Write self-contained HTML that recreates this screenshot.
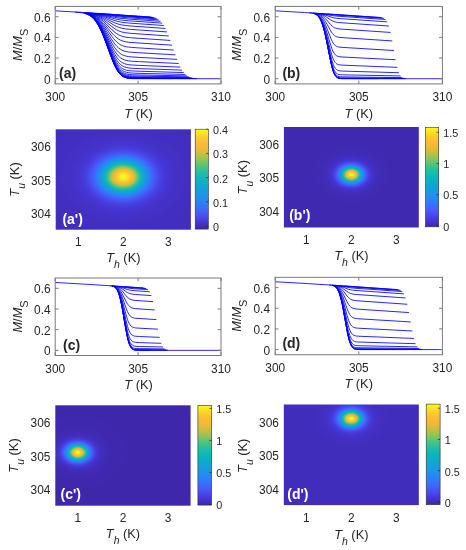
<!DOCTYPE html>
<html><head><meta charset="utf-8"><title>Figure</title>
<style>
html,body{margin:0;padding:0;background:#fff}
body{width:466px;height:550px;position:relative;overflow:hidden}
.hm{position:absolute}
svg{position:absolute;left:0;top:0}
text{font-family:"Liberation Sans", Arial, Helvetica, sans-serif;fill:#262626}
.tk{font-size:11.9px}
.lb{font-size:12.8px}
.pl{font-size:14px;font-weight:bold}
.cb{font-size:10.8px}
</style></head><body>
<svg width="466" height="550" viewBox="0 0 466 550">
<radialGradient id="g1" gradientUnits="userSpaceOnUse" cx="0" cy="0" r="1" gradientTransform="matrix(102.527 0 0 76.137 123.300 176.823)"><stop offset="0.0000" stop-color="#f9fb15"/><stop offset="0.0250" stop-color="#f9f319"/><stop offset="0.0500" stop-color="#fadc25"/><stop offset="0.0750" stop-color="#fbc034"/><stop offset="0.1000" stop-color="#efb937"/><stop offset="0.1250" stop-color="#9cc352"/><stop offset="0.1500" stop-color="#3ec389"/><stop offset="0.1750" stop-color="#0fb7ba"/><stop offset="0.2000" stop-color="#0fa7d2"/><stop offset="0.2250" stop-color="#1c95e7"/><stop offset="0.2500" stop-color="#2983f6"/><stop offset="0.2750" stop-color="#3a6efb"/><stop offset="0.3000" stop-color="#455cf8"/><stop offset="0.3250" stop-color="#474ff2"/><stop offset="0.3500" stop-color="#4745e7"/><stop offset="0.3750" stop-color="#463ede"/><stop offset="0.4000" stop-color="#4639d8"/><stop offset="0.4250" stop-color="#4536d3"/><stop offset="0.4500" stop-color="#4434cf"/><stop offset="0.4750" stop-color="#4433cb"/><stop offset="0.5000" stop-color="#4332c9"/><stop offset="0.5250" stop-color="#4331c7"/><stop offset="0.5500" stop-color="#4330c5"/><stop offset="0.5750" stop-color="#4330c4"/><stop offset="0.6000" stop-color="#4230c3"/><stop offset="0.6250" stop-color="#422fc2"/><stop offset="0.6500" stop-color="#422fc1"/><stop offset="0.6750" stop-color="#422fc0"/><stop offset="0.7000" stop-color="#422ec0"/><stop offset="0.7250" stop-color="#422ebf"/><stop offset="0.7500" stop-color="#422ebf"/><stop offset="0.7750" stop-color="#422ebe"/><stop offset="0.8000" stop-color="#422ebe"/><stop offset="0.8250" stop-color="#422ebe"/><stop offset="0.8500" stop-color="#422ebd"/><stop offset="0.8750" stop-color="#422ebd"/><stop offset="0.9000" stop-color="#412dbd"/><stop offset="0.9250" stop-color="#412dbd"/><stop offset="0.9500" stop-color="#412dbd"/><stop offset="0.9750" stop-color="#412dbd"/><stop offset="1.0000" stop-color="#412dbd"/></radialGradient>
<rect x="55.70" y="129.30" width="135.20" height="100.40" fill="url(#g1)"/>
<linearGradient id="c1" x1="0" y1="0" x2="0" y2="1"><stop offset="0.0000" stop-color="#f9fb15"/><stop offset="0.0312" stop-color="#f9e91e"/><stop offset="0.0625" stop-color="#fad827"/><stop offset="0.0938" stop-color="#fac92f"/><stop offset="0.1250" stop-color="#fcbe35"/><stop offset="0.1562" stop-color="#f9b838"/><stop offset="0.1875" stop-color="#f2b937"/><stop offset="0.2188" stop-color="#e0bb3a"/><stop offset="0.2500" stop-color="#c6bf3f"/><stop offset="0.2812" stop-color="#a9c24c"/><stop offset="0.3125" stop-color="#89c55b"/><stop offset="0.3438" stop-color="#6ac56d"/><stop offset="0.3750" stop-color="#4bc47f"/><stop offset="0.4062" stop-color="#34c191"/><stop offset="0.4375" stop-color="#20bea4"/><stop offset="0.4688" stop-color="#15bab1"/><stop offset="0.5000" stop-color="#0cb5be"/><stop offset="0.5312" stop-color="#0cb0c6"/><stop offset="0.5625" stop-color="#0cabce"/><stop offset="0.5938" stop-color="#11a4d6"/><stop offset="0.6250" stop-color="#169dde"/><stop offset="0.6562" stop-color="#1b96e6"/><stop offset="0.6875" stop-color="#2090ed"/><stop offset="0.7188" stop-color="#2686f4"/><stop offset="0.7500" stop-color="#2d7dfa"/><stop offset="0.7812" stop-color="#3870fb"/><stop offset="0.8125" stop-color="#4364fc"/><stop offset="0.8438" stop-color="#4658f6"/><stop offset="0.8750" stop-color="#484cf0"/><stop offset="0.9062" stop-color="#4640e1"/><stop offset="0.9375" stop-color="#4535d2"/><stop offset="0.9688" stop-color="#412dbd"/><stop offset="1.0000" stop-color="#3e26a8"/></linearGradient>
<rect x="195.20" y="129.20" width="13.10" height="99.90" fill="url(#c1)"/>
<radialGradient id="g2" gradientUnits="userSpaceOnUse" cx="0" cy="0" r="1" gradientTransform="matrix(50.363 0 0 37.520 351.350 174.570)"><stop offset="0.0000" stop-color="#f9fb15"/><stop offset="0.0250" stop-color="#f9f319"/><stop offset="0.0500" stop-color="#fadc25"/><stop offset="0.0750" stop-color="#fbbf34"/><stop offset="0.1000" stop-color="#ecba38"/><stop offset="0.1250" stop-color="#96c455"/><stop offset="0.1500" stop-color="#39c28e"/><stop offset="0.1750" stop-color="#0cb5be"/><stop offset="0.2000" stop-color="#11a5d5"/><stop offset="0.2250" stop-color="#1e92ea"/><stop offset="0.2500" stop-color="#2c7ff9"/><stop offset="0.2750" stop-color="#4068fc"/><stop offset="0.3000" stop-color="#4656f5"/><stop offset="0.3250" stop-color="#4849ec"/><stop offset="0.3500" stop-color="#463fdf"/><stop offset="0.3750" stop-color="#4538d6"/><stop offset="0.4000" stop-color="#4433ce"/><stop offset="0.4250" stop-color="#4331c7"/><stop offset="0.4500" stop-color="#422fc2"/><stop offset="0.4750" stop-color="#422ebf"/><stop offset="0.5000" stop-color="#412dbc"/><stop offset="0.5250" stop-color="#412cba"/><stop offset="0.5500" stop-color="#412cb9"/><stop offset="0.5750" stop-color="#412bb7"/><stop offset="0.6000" stop-color="#402bb6"/><stop offset="0.6250" stop-color="#402bb5"/><stop offset="0.6500" stop-color="#402ab4"/><stop offset="0.6750" stop-color="#402ab4"/><stop offset="0.7000" stop-color="#402ab3"/><stop offset="0.7250" stop-color="#402ab2"/><stop offset="0.7500" stop-color="#402ab2"/><stop offset="0.7750" stop-color="#4029b1"/><stop offset="0.8000" stop-color="#4029b1"/><stop offset="0.8250" stop-color="#3f29b1"/><stop offset="0.8500" stop-color="#3f29b1"/><stop offset="0.8750" stop-color="#3f29b0"/><stop offset="0.9000" stop-color="#3f29b0"/><stop offset="0.9250" stop-color="#3f29b0"/><stop offset="0.9500" stop-color="#3f29b0"/><stop offset="0.9750" stop-color="#3f29b0"/><stop offset="1.0000" stop-color="#3f29b0"/></radialGradient>
<rect x="283.90" y="127.00" width="134.90" height="100.50" fill="url(#g2)"/>
<linearGradient id="c2" x1="0" y1="0" x2="0" y2="1"><stop offset="0.0000" stop-color="#f9fb15"/><stop offset="0.0312" stop-color="#f9e91e"/><stop offset="0.0625" stop-color="#fad827"/><stop offset="0.0938" stop-color="#fac92f"/><stop offset="0.1250" stop-color="#fcbe35"/><stop offset="0.1562" stop-color="#f9b838"/><stop offset="0.1875" stop-color="#f2b937"/><stop offset="0.2188" stop-color="#e0bb3a"/><stop offset="0.2500" stop-color="#c6bf3f"/><stop offset="0.2812" stop-color="#a9c24c"/><stop offset="0.3125" stop-color="#89c55b"/><stop offset="0.3438" stop-color="#6ac56d"/><stop offset="0.3750" stop-color="#4bc47f"/><stop offset="0.4062" stop-color="#34c191"/><stop offset="0.4375" stop-color="#20bea4"/><stop offset="0.4688" stop-color="#15bab1"/><stop offset="0.5000" stop-color="#0cb5be"/><stop offset="0.5312" stop-color="#0cb0c6"/><stop offset="0.5625" stop-color="#0cabce"/><stop offset="0.5938" stop-color="#11a4d6"/><stop offset="0.6250" stop-color="#169dde"/><stop offset="0.6562" stop-color="#1b96e6"/><stop offset="0.6875" stop-color="#2090ed"/><stop offset="0.7188" stop-color="#2686f4"/><stop offset="0.7500" stop-color="#2d7dfa"/><stop offset="0.7812" stop-color="#3870fb"/><stop offset="0.8125" stop-color="#4364fc"/><stop offset="0.8438" stop-color="#4658f6"/><stop offset="0.8750" stop-color="#484cf0"/><stop offset="0.9062" stop-color="#4640e1"/><stop offset="0.9375" stop-color="#4535d2"/><stop offset="0.9688" stop-color="#412dbd"/><stop offset="1.0000" stop-color="#3e26a8"/></linearGradient>
<rect x="425.50" y="127.50" width="13.20" height="99.30" fill="url(#c2)"/>
<radialGradient id="g3" gradientUnits="userSpaceOnUse" cx="0" cy="0" r="1" gradientTransform="matrix(50.512 0 0 37.483 77.850 452.488)"><stop offset="0.0000" stop-color="#f9fb15"/><stop offset="0.0250" stop-color="#f9f319"/><stop offset="0.0500" stop-color="#fadb25"/><stop offset="0.0750" stop-color="#fbbf34"/><stop offset="0.1000" stop-color="#ebba38"/><stop offset="0.1250" stop-color="#94c456"/><stop offset="0.1500" stop-color="#37c28f"/><stop offset="0.1750" stop-color="#0cb5be"/><stop offset="0.2000" stop-color="#11a4d6"/><stop offset="0.2250" stop-color="#1e92eb"/><stop offset="0.2500" stop-color="#2d7dfa"/><stop offset="0.2750" stop-color="#4166fc"/><stop offset="0.3000" stop-color="#4654f4"/><stop offset="0.3250" stop-color="#4747e9"/><stop offset="0.3500" stop-color="#463ddc"/><stop offset="0.3750" stop-color="#4536d3"/><stop offset="0.4000" stop-color="#4432ca"/><stop offset="0.4250" stop-color="#4330c3"/><stop offset="0.4500" stop-color="#422ebf"/><stop offset="0.4750" stop-color="#412dbb"/><stop offset="0.5000" stop-color="#412cb9"/><stop offset="0.5250" stop-color="#402bb7"/><stop offset="0.5500" stop-color="#402bb5"/><stop offset="0.5750" stop-color="#402ab4"/><stop offset="0.6000" stop-color="#402ab2"/><stop offset="0.6250" stop-color="#4029b1"/><stop offset="0.6500" stop-color="#3f29b1"/><stop offset="0.6750" stop-color="#3f29b0"/><stop offset="0.7000" stop-color="#3f29af"/><stop offset="0.7250" stop-color="#3f28af"/><stop offset="0.7500" stop-color="#3f28ae"/><stop offset="0.7750" stop-color="#3f28ae"/><stop offset="0.8000" stop-color="#3f28ad"/><stop offset="0.8250" stop-color="#3f28ad"/><stop offset="0.8500" stop-color="#3f28ad"/><stop offset="0.8750" stop-color="#3f28ad"/><stop offset="0.9000" stop-color="#3f28ad"/><stop offset="0.9250" stop-color="#3f28ac"/><stop offset="0.9500" stop-color="#3f28ac"/><stop offset="0.9750" stop-color="#3f27ac"/><stop offset="1.0000" stop-color="#3f27ac"/></radialGradient>
<rect x="55.30" y="405.30" width="135.30" height="100.40" fill="url(#g3)"/>
<linearGradient id="c3" x1="0" y1="0" x2="0" y2="1"><stop offset="0.0000" stop-color="#f9fb15"/><stop offset="0.0312" stop-color="#f9e91e"/><stop offset="0.0625" stop-color="#fad827"/><stop offset="0.0938" stop-color="#fac92f"/><stop offset="0.1250" stop-color="#fcbe35"/><stop offset="0.1562" stop-color="#f9b838"/><stop offset="0.1875" stop-color="#f2b937"/><stop offset="0.2188" stop-color="#e0bb3a"/><stop offset="0.2500" stop-color="#c6bf3f"/><stop offset="0.2812" stop-color="#a9c24c"/><stop offset="0.3125" stop-color="#89c55b"/><stop offset="0.3438" stop-color="#6ac56d"/><stop offset="0.3750" stop-color="#4bc47f"/><stop offset="0.4062" stop-color="#34c191"/><stop offset="0.4375" stop-color="#20bea4"/><stop offset="0.4688" stop-color="#15bab1"/><stop offset="0.5000" stop-color="#0cb5be"/><stop offset="0.5312" stop-color="#0cb0c6"/><stop offset="0.5625" stop-color="#0cabce"/><stop offset="0.5938" stop-color="#11a4d6"/><stop offset="0.6250" stop-color="#169dde"/><stop offset="0.6562" stop-color="#1b96e6"/><stop offset="0.6875" stop-color="#2090ed"/><stop offset="0.7188" stop-color="#2686f4"/><stop offset="0.7500" stop-color="#2d7dfa"/><stop offset="0.7812" stop-color="#3870fb"/><stop offset="0.8125" stop-color="#4364fc"/><stop offset="0.8438" stop-color="#4658f6"/><stop offset="0.8750" stop-color="#484cf0"/><stop offset="0.9062" stop-color="#4640e1"/><stop offset="0.9375" stop-color="#4535d2"/><stop offset="0.9688" stop-color="#412dbd"/><stop offset="1.0000" stop-color="#3e26a8"/></linearGradient>
<rect x="197.90" y="405.30" width="13.70" height="99.80" fill="url(#c3)"/>
<radialGradient id="g4" gradientUnits="userSpaceOnUse" cx="0" cy="0" r="1" gradientTransform="matrix(50.400 0 0 37.557 351.300 418.584)"><stop offset="0.0000" stop-color="#f9fb15"/><stop offset="0.0250" stop-color="#f9f319"/><stop offset="0.0500" stop-color="#fadc25"/><stop offset="0.0750" stop-color="#fbc034"/><stop offset="0.1000" stop-color="#efb937"/><stop offset="0.1250" stop-color="#9bc453"/><stop offset="0.1500" stop-color="#3dc38a"/><stop offset="0.1750" stop-color="#0fb6ba"/><stop offset="0.2000" stop-color="#0fa7d3"/><stop offset="0.2250" stop-color="#1c95e7"/><stop offset="0.2500" stop-color="#2982f6"/><stop offset="0.2750" stop-color="#3b6dfb"/><stop offset="0.3000" stop-color="#455bf8"/><stop offset="0.3250" stop-color="#484ef1"/><stop offset="0.3500" stop-color="#4744e6"/><stop offset="0.3750" stop-color="#463ddd"/><stop offset="0.4000" stop-color="#4538d6"/><stop offset="0.4250" stop-color="#4535d1"/><stop offset="0.4500" stop-color="#4433cd"/><stop offset="0.4750" stop-color="#4432c9"/><stop offset="0.5000" stop-color="#4331c7"/><stop offset="0.5250" stop-color="#4330c5"/><stop offset="0.5500" stop-color="#4330c3"/><stop offset="0.5750" stop-color="#422fc2"/><stop offset="0.6000" stop-color="#422fc1"/><stop offset="0.6250" stop-color="#422ec0"/><stop offset="0.6500" stop-color="#422ebf"/><stop offset="0.6750" stop-color="#422ebe"/><stop offset="0.7000" stop-color="#422ebe"/><stop offset="0.7250" stop-color="#422ebd"/><stop offset="0.7500" stop-color="#412dbd"/><stop offset="0.7750" stop-color="#412dbc"/><stop offset="0.8000" stop-color="#412dbc"/><stop offset="0.8250" stop-color="#412dbc"/><stop offset="0.8500" stop-color="#412dbb"/><stop offset="0.8750" stop-color="#412dbb"/><stop offset="0.9000" stop-color="#412dbb"/><stop offset="0.9250" stop-color="#412dbb"/><stop offset="0.9500" stop-color="#412dbb"/><stop offset="0.9750" stop-color="#412dbb"/><stop offset="1.0000" stop-color="#412dbb"/></radialGradient>
<rect x="283.80" y="404.50" width="135.00" height="100.60" fill="url(#g4)"/>
<linearGradient id="c4" x1="0" y1="0" x2="0" y2="1"><stop offset="0.0000" stop-color="#f9fb15"/><stop offset="0.0312" stop-color="#f9e91e"/><stop offset="0.0625" stop-color="#fad827"/><stop offset="0.0938" stop-color="#fac92f"/><stop offset="0.1250" stop-color="#fcbe35"/><stop offset="0.1562" stop-color="#f9b838"/><stop offset="0.1875" stop-color="#f2b937"/><stop offset="0.2188" stop-color="#e0bb3a"/><stop offset="0.2500" stop-color="#c6bf3f"/><stop offset="0.2812" stop-color="#a9c24c"/><stop offset="0.3125" stop-color="#89c55b"/><stop offset="0.3438" stop-color="#6ac56d"/><stop offset="0.3750" stop-color="#4bc47f"/><stop offset="0.4062" stop-color="#34c191"/><stop offset="0.4375" stop-color="#20bea4"/><stop offset="0.4688" stop-color="#15bab1"/><stop offset="0.5000" stop-color="#0cb5be"/><stop offset="0.5312" stop-color="#0cb0c6"/><stop offset="0.5625" stop-color="#0cabce"/><stop offset="0.5938" stop-color="#11a4d6"/><stop offset="0.6250" stop-color="#169dde"/><stop offset="0.6562" stop-color="#1b96e6"/><stop offset="0.6875" stop-color="#2090ed"/><stop offset="0.7188" stop-color="#2686f4"/><stop offset="0.7500" stop-color="#2d7dfa"/><stop offset="0.7812" stop-color="#3870fb"/><stop offset="0.8125" stop-color="#4364fc"/><stop offset="0.8438" stop-color="#4658f6"/><stop offset="0.8750" stop-color="#484cf0"/><stop offset="0.9062" stop-color="#4640e1"/><stop offset="0.9375" stop-color="#4535d2"/><stop offset="0.9688" stop-color="#412dbd"/><stop offset="1.0000" stop-color="#3e26a8"/></linearGradient>
<rect x="426.20" y="404.10" width="13.90" height="100.60" fill="url(#c4)"/>
<g fill="none" stroke="#0000ff" stroke-width="0.85" stroke-linejoin="round"><path d="M55.20 10.84 74.76 12.01 79.08 12.42 82.39 12.91 84.05 13.27 85.71 13.75 87.03 14.23 88.36 14.83 89.69 15.57 90.68 16.23 92.01 17.26 93.00 18.17 94.33 19.58 95.32 20.79 97.31 23.65 99.30 27.11 101.29 31.17 102.95 34.97 104.94 39.96 110.91 56.28 112.57 60.61 114.22 64.56 115.88 68.01 116.88 69.80 117.87 71.39 118.87 72.77 119.86 73.96 120.86 74.96 122.18 76.03 123.18 76.66 124.50 77.31 126.49 77.96 128.48 78.33 131.14 78.58 134.78 78.70 220.17 78.73"/><path d="M74.76 11.96 97.98 13.39 150.54 17.00"/><path d="M106.93 14.08 120.53 15.11 152.19 17.27"/><path d="M101.62 13.75 120.53 15.34 153.85 17.64"/><path d="M97.98 13.53 120.53 15.72 155.51 18.16"/><path d="M94.99 13.34 101.29 13.99 114.56 15.67 120.86 16.32 157.17 18.89"/><path d="M92.67 13.21 100.63 14.14 114.56 16.37 120.86 17.16 128.48 17.80 158.83 19.91"/><path d="M90.68 13.09 95.32 13.62 99.97 14.33 104.28 15.16 114.56 17.38 117.87 17.95 121.19 18.39 129.15 19.11 160.48 21.30"/><path d="M89.02 13.00 94.33 13.66 99.30 14.58 103.95 15.72 114.56 18.74 117.87 19.47 121.19 20.02 124.84 20.45 129.48 20.85 162.14 23.14"/><path d="M87.70 12.93 90.68 13.29 93.67 13.76 96.32 14.30 98.97 14.96 103.95 16.53 111.90 19.58 114.89 20.62 118.20 21.54 121.52 22.20 125.17 22.69 129.81 23.11 163.80 25.51"/><path d="M86.70 12.89 90.02 13.33 93.00 13.87 95.99 14.59 98.64 15.40 100.96 16.27 103.61 17.41 111.90 21.53 114.89 22.88 118.20 24.06 121.52 24.88 125.17 25.46 130.14 25.95 165.46 28.44"/><path d="M86.04 12.88 89.69 13.42 92.67 14.05 95.66 14.91 98.31 15.91 100.96 17.15 103.61 18.61 106.27 20.23 111.90 23.89 114.89 25.61 116.55 26.42 118.20 27.10 119.86 27.66 121.85 28.19 125.50 28.85 130.47 29.37 167.12 31.94"/><path d="M85.38 12.87 89.02 13.45 92.34 14.24 95.32 15.26 98.31 16.64 100.96 18.18 103.61 20.00 106.27 22.04 111.90 26.64 114.89 28.79 116.55 29.79 118.20 30.64 119.86 31.32 121.85 31.97 123.84 32.44 125.83 32.79 130.80 33.34 168.77 35.97"/><path d="M84.71 12.85 88.69 13.54 92.01 14.44 94.99 15.62 96.65 16.46 97.98 17.24 100.63 19.08 103.61 21.56 106.27 24.07 111.90 29.71 114.89 32.34 116.55 33.56 118.20 34.59 119.86 35.42 121.85 36.18 123.84 36.74 125.83 37.14 130.80 37.74 170.43 40.43"/><path d="M84.38 12.87 88.36 13.61 90.35 14.17 92.01 14.75 93.67 15.47 94.99 16.15 96.65 17.15 97.98 18.07 100.63 20.27 103.28 22.89 105.93 25.86 111.90 33.01 113.56 34.84 114.89 36.16 116.88 37.88 118.54 39.05 120.19 39.99 122.18 40.84 123.84 41.36 125.83 41.81 128.15 42.18 131.14 42.49 172.09 45.18"/><path d="M84.05 12.88 86.04 13.23 88.03 13.68 90.02 14.29 91.68 14.93 93.33 15.72 94.99 16.70 96.65 17.86 97.98 18.94 100.63 21.50 103.28 24.58 105.93 28.06 111.90 36.44 113.56 38.57 114.89 40.12 116.88 42.13 118.54 43.49 120.19 44.57 122.18 45.55 124.17 46.24 126.16 46.71 128.48 47.09 131.47 47.40 138.10 47.87 173.75 50.05"/><path d="M84.05 12.94 86.04 13.32 88.03 13.83 90.02 14.51 91.68 15.23 93.33 16.14 94.99 17.24 96.65 18.57 97.98 19.81 99.30 21.20 100.63 22.74 103.28 26.26 105.93 30.25 111.90 39.86 113.56 42.30 114.89 44.07 116.88 46.36 118.54 47.91 120.19 49.14 122.18 50.24 124.17 51.01 126.16 51.53 128.48 51.93 131.47 52.26 138.43 52.73 175.41 54.83"/><path d="M84.38 13.05 86.37 13.49 88.36 14.08 90.35 14.87 92.01 15.71 93.67 16.77 94.99 17.77 96.65 19.26 97.98 20.64 99.30 22.20 100.63 23.93 103.28 27.89 105.93 32.37 111.90 43.14 113.56 45.88 114.89 47.87 116.88 50.43 118.54 52.15 120.19 53.52 122.18 54.74 124.17 55.58 126.16 56.15 128.48 56.57 131.80 56.93 139.09 57.39 177.06 59.36"/><path d="M84.71 13.18 86.70 13.68 88.69 14.35 90.35 15.08 92.01 16.01 93.67 17.16 94.99 18.26 96.65 19.90 97.98 21.42 99.30 23.14 100.63 25.04 103.28 29.39 105.93 34.32 111.90 46.18 113.56 49.20 114.89 51.38 116.88 54.19 118.54 56.07 119.53 57.02 120.53 57.82 122.51 59.07 124.50 59.92 126.49 60.49 128.82 60.90 131.80 61.21 139.43 61.65 178.72 63.48"/><path d="M85.04 13.31 87.03 13.87 88.69 14.48 90.35 15.27 92.01 16.27 93.67 17.51 94.99 18.70 96.65 20.47 97.98 22.12 99.30 23.97 100.63 26.03 103.28 30.74 105.93 36.07 111.90 48.90 113.56 52.15 114.89 54.50 116.88 57.53 118.54 59.57 119.53 60.58 120.53 61.44 121.52 62.17 122.51 62.78 124.50 63.68 126.49 64.27 128.82 64.70 132.13 65.03 139.76 65.43 180.38 67.08"/><path d="M85.71 13.54 87.70 14.19 89.35 14.91 91.01 15.83 92.34 16.74 94.00 18.11 95.32 19.43 96.65 20.96 97.98 22.71 99.30 24.69 100.63 26.88 103.28 31.89 105.93 37.58 111.90 51.23 113.56 54.69 114.89 57.19 116.88 60.40 118.54 62.56 119.53 63.63 120.53 64.55 121.52 65.31 122.51 65.95 124.50 66.90 126.49 67.51 128.82 67.95 132.13 68.28 140.09 68.64 182.04 70.11"/><path d="M86.70 13.90 88.36 14.55 90.02 15.38 91.68 16.44 93.00 17.48 94.33 18.71 95.66 20.15 96.98 21.81 98.31 23.71 99.63 25.84 100.96 28.21 103.61 33.57 106.27 39.61 111.90 53.16 113.56 56.79 114.89 59.41 116.88 62.78 118.54 65.04 119.53 66.16 120.53 67.11 121.52 67.91 122.51 68.58 124.50 69.56 126.49 70.19 128.82 70.63 132.13 70.95 140.09 71.28 183.69 72.55"/><path d="M87.70 14.34 89.35 15.11 90.68 15.89 92.34 17.10 93.67 18.27 94.99 19.66 96.32 21.27 97.64 23.12 98.64 24.66 100.96 28.80 103.61 34.37 106.27 40.64 111.90 54.71 113.56 58.47 114.89 61.19 116.88 64.68 118.54 67.02 119.53 68.17 120.53 69.16 121.52 69.99 122.51 70.67 124.50 71.68 126.49 72.32 128.82 72.76 132.13 73.07 140.09 73.36 185.35 74.45"/><path d="M88.69 14.84 90.02 15.57 91.34 16.45 92.67 17.51 94.00 18.77 95.32 20.25 96.65 21.96 97.98 23.93 98.97 25.57 101.29 29.93 103.61 34.99 106.27 41.44 111.90 55.90 113.56 59.77 114.89 62.57 116.88 66.15 118.54 68.54 119.53 69.73 120.53 70.74 121.52 71.58 122.51 72.28 124.50 73.31 126.49 73.96 129.15 74.44 132.46 74.72 140.42 74.96 187.01 75.86"/><path d="M90.35 15.84 91.68 16.78 92.67 17.61 94.00 18.89 94.99 20.01 96.32 21.70 97.31 23.13 99.30 26.43 101.62 30.99 103.95 36.25 106.27 42.05 111.90 56.80 113.56 60.75 114.89 63.60 116.88 67.25 117.87 68.77 118.87 70.11 119.86 71.25 120.86 72.22 121.85 73.03 122.85 73.69 124.84 74.65 126.83 75.26 129.48 75.70 132.79 75.94 141.08 76.15 188.67 76.87"/><path d="M92.01 17.11 93.33 18.31 94.33 19.35 95.66 20.94 96.65 22.30 98.64 25.45 100.96 29.87 102.95 34.24 104.94 39.07 110.91 54.89 112.57 59.10 114.22 62.94 115.88 66.29 117.54 69.10 119.20 71.35 120.86 73.08 121.85 73.89 122.85 74.56 124.84 75.53 126.83 76.14 129.48 76.57 132.79 76.81 140.75 76.98 190.33 77.57"/><path d="M94.00 19.06 95.99 21.47 97.98 24.46 99.63 27.40 101.62 31.46 103.28 35.25 105.27 40.20 112.24 58.76 113.89 62.72 115.55 66.21 117.21 69.15 118.20 70.64 119.20 71.94 120.86 73.68 121.85 74.50 122.85 75.18 124.84 76.15 126.83 76.76 129.48 77.19 132.79 77.42 140.75 77.57 191.99 78.03"/><path d="M96.32 22.00 97.98 24.55 99.30 26.89 100.96 30.18 102.62 33.85 105.60 41.27 112.24 59.09 113.89 63.07 115.22 65.92 117.21 69.54 118.20 71.05 119.20 72.35 120.19 73.46 121.19 74.39 122.18 75.17 123.18 75.80 125.17 76.70 127.16 77.25 129.81 77.65 133.13 77.85 141.08 77.97 193.64 78.33"/><path d="M98.97 26.35 101.29 30.97 103.61 36.34 106.27 43.17 111.90 58.46 113.56 62.55 115.22 66.18 117.21 69.81 118.20 71.32 119.20 72.63 120.19 73.74 121.19 74.68 122.18 75.45 123.51 76.27 125.50 77.10 127.49 77.61 130.14 77.96 133.46 78.14 141.42 78.23 195.30 78.50"/><path d="M102.29 33.26 103.95 37.24 105.60 41.50 112.24 59.46 113.89 63.48 115.22 66.35 117.21 69.99 118.20 71.50 119.20 72.81 120.19 73.93 121.52 75.14 122.51 75.87 123.84 76.63 125.83 77.40 127.82 77.86 130.14 78.15 133.46 78.32 141.42 78.41 196.96 78.61"/><path d="M106.93 45.14 112.24 59.56 114.22 64.34 115.88 67.77 117.54 70.64 118.54 72.09 119.53 73.33 120.53 74.39 121.52 75.27 122.51 76.00 123.51 76.59 125.17 77.31 127.16 77.86 129.48 78.21 132.13 78.39 138.76 78.51 171.92 78.60"/><path d="M115.55 67.21 117.21 70.19 118.87 72.61 120.53 74.47 121.52 75.36 122.51 76.08 123.51 76.67 124.50 77.14 126.49 77.79 129.15 78.26 132.46 78.49"/></g>
<rect x="55.20" y="6.40" width="165.80" height="77.50" fill="none" stroke="#7a7a7a" stroke-width="1.0"/>
<path d="M55.20 83.90v-3.30M55.20 6.40v3.30M138.10 83.90v-3.30M138.10 6.40v3.30M221.00 83.90v-3.30M221.00 6.40v3.30M55.20 78.73h3.30M221.00 78.73h-3.30M55.20 58.07h3.30M221.00 58.07h-3.30M55.20 37.40h3.30M221.00 37.40h-3.30M55.20 16.73h3.30M221.00 16.73h-3.30" stroke="#7a7a7a" stroke-width="1.0" fill="none"/>
<text x="55.20" y="100.80" text-anchor="middle" class="tk">300</text>
<text x="138.10" y="100.80" text-anchor="middle" class="tk">305</text>
<text x="221.00" y="100.80" text-anchor="middle" class="tk">310</text>
<text x="50.60" y="83.73" text-anchor="end" class="tk">0</text>
<text x="50.60" y="63.07" text-anchor="end" class="tk">0.2</text>
<text x="50.60" y="42.40" text-anchor="end" class="tk">0.4</text>
<text x="50.60" y="21.73" text-anchor="end" class="tk">0.6</text>
<text x="138.60" y="118.10" text-anchor="middle" class="lb"><tspan font-style="italic">T</tspan> (K)</text>
<text transform="translate(21.60 44.85) rotate(-90)" text-anchor="middle" class="lb"><tspan font-style="italic">M</tspan>/<tspan font-style="italic">M</tspan><tspan font-size="11" dy="6.0">S</tspan></text>
<text x="59.00" y="77.80" class="pl">(a)</text>
<g fill="none" stroke="#0000ff" stroke-width="0.85" stroke-linejoin="round"><path d="M275.20 10.84 304.63 12.53 310.98 13.02 313.32 13.42 314.99 13.96 316.00 14.45 316.67 14.88 318.00 16.05 319.01 17.27 319.68 18.29 321.01 20.87 322.35 24.30 323.69 28.64 325.03 33.87 326.36 39.89 331.04 63.24 332.05 67.42 333.05 70.86 334.05 73.52 334.72 74.89 335.39 75.96 336.06 76.78 336.73 77.39 337.40 77.83 338.07 78.15 339.07 78.44 340.07 78.59 343.75 78.73 442.40 78.73"/><path d="M309.31 12.81 350.11 15.43 380.54 17.51"/><path d="M327.37 14.01 335.06 14.59 382.21 17.78"/><path d="M321.68 13.64 335.73 15.04 383.88 18.32"/><path d="M318.67 13.46 323.69 14.06 332.05 15.58 336.06 16.07 385.55 19.48"/><path d="M316.33 13.31 320.01 13.78 323.02 14.40 326.03 15.29 332.05 17.41 334.05 17.91 336.40 18.27 340.41 18.63 387.22 21.84"/><path d="M314.99 13.25 317.33 13.55 319.34 13.94 321.01 14.41 322.68 15.04 324.02 15.67 325.69 16.62 330.38 19.75 332.05 20.76 334.05 21.64 336.40 22.23 338.40 22.50 341.08 22.73 388.90 26.02"/><path d="M313.99 13.20 316.67 13.61 318.67 14.13 320.68 14.95 322.35 15.94 324.02 17.25 325.69 18.86 330.71 24.64 332.38 26.28 333.39 27.05 334.39 27.65 335.39 28.09 336.73 28.50 338.74 28.85 341.75 29.12 390.57 32.45"/><path d="M313.32 13.18 316.00 13.64 317.33 14.03 318.34 14.42 319.34 14.93 320.34 15.57 322.02 17.00 323.69 18.92 325.36 21.34 327.03 24.17 330.71 30.91 332.38 33.46 333.39 34.64 334.39 35.56 335.39 36.23 336.73 36.82 338.74 37.29 342.08 37.63 392.24 40.93"/><path d="M312.99 13.18 314.66 13.48 316.00 13.83 317.33 14.35 318.34 14.88 319.34 15.58 320.34 16.48 321.35 17.60 322.02 18.48 323.69 21.18 325.36 24.59 327.03 28.59 330.71 38.12 332.38 41.72 333.39 43.38 334.39 44.66 335.39 45.59 336.73 46.39 337.73 46.76 338.74 47.00 342.08 47.37 393.91 50.50"/><path d="M312.99 13.23 314.66 13.58 316.00 14.01 317.33 14.66 318.34 15.34 319.34 16.24 320.34 17.38 321.35 18.81 322.02 19.94 323.69 23.42 325.36 27.82 327.03 32.98 330.71 45.27 331.71 48.19 332.38 49.89 333.39 52.03 334.39 53.66 335.39 54.83 336.06 55.41 336.73 55.84 337.73 56.30 338.74 56.58 340.07 56.80 342.08 56.98 395.58 59.73"/><path d="M313.32 13.34 314.66 13.67 316.00 14.17 317.33 14.94 318.34 15.74 319.34 16.79 320.34 18.15 321.35 19.85 322.02 21.20 323.02 23.55 323.69 25.34 325.36 30.58 327.03 36.72 330.71 51.36 331.71 54.83 332.38 56.85 333.39 59.38 334.39 61.31 335.39 62.70 336.06 63.37 336.73 63.87 337.73 64.40 338.74 64.71 340.07 64.95 342.08 65.12 397.26 67.35"/><path d="M313.99 13.53 315.33 13.98 316.67 14.67 317.67 15.41 318.67 16.39 319.68 17.67 320.68 19.31 321.68 21.35 322.35 22.95 323.69 26.75 325.36 32.61 327.03 39.48 330.71 55.83 331.71 59.71 332.38 61.96 333.39 64.78 334.39 66.92 335.39 68.46 336.06 69.20 336.73 69.75 337.73 70.32 339.07 70.74 340.41 70.94 342.41 71.08 398.93 72.72"/><path d="M314.99 13.90 316.00 14.37 317.00 15.01 318.00 15.87 319.01 17.02 320.01 18.50 320.68 19.71 321.68 21.89 322.35 23.60 323.69 27.66 325.36 33.91 327.03 41.24 330.71 58.68 331.71 62.81 332.38 65.21 333.39 68.21 334.39 70.49 335.39 72.11 336.06 72.90 336.73 73.48 337.73 74.08 339.07 74.51 340.41 74.71 342.41 74.83 400.60 75.95"/><path d="M316.67 14.83 317.67 15.64 318.34 16.32 319.34 17.62 320.01 18.69 321.35 21.39 322.68 24.93 324.02 29.36 325.69 36.08 327.37 43.84 330.38 58.72 332.05 65.82 333.05 69.17 333.72 70.98 334.39 72.47 335.39 74.14 336.06 74.95 336.73 75.55 337.73 76.16 339.07 76.59 340.41 76.79 342.41 76.90 402.27 77.61"/><path d="M319.01 17.22 320.34 19.39 321.68 22.35 323.02 26.17 324.02 29.63 325.03 33.58 326.36 39.52 330.71 61.06 331.71 65.40 332.72 69.05 333.72 71.94 334.72 74.09 335.73 75.59 336.73 76.57 337.73 77.18 339.07 77.62 340.41 77.81 342.41 77.92 403.94 78.34"/><path d="M321.68 22.42 322.68 25.22 323.35 27.38 324.36 31.03 325.36 35.17 327.03 42.95 330.71 61.43 331.71 65.80 332.38 68.33 333.39 71.50 334.05 73.18 334.72 74.54 335.73 76.05 336.40 76.76 337.06 77.28 338.07 77.79 339.07 78.08 340.41 78.28 342.41 78.37 405.62 78.62"/><path d="M326.03 38.25 330.38 60.00 331.38 64.58 332.38 68.51 333.39 71.69 334.39 74.09 335.39 75.81 336.06 76.63 336.73 77.24 337.73 77.85 338.74 78.21 340.07 78.44 341.75 78.55 378.20 78.65"/></g>
<rect x="275.20" y="6.40" width="167.20" height="77.50" fill="none" stroke="#7a7a7a" stroke-width="1.0"/>
<path d="M275.20 83.90v-3.30M275.20 6.40v3.30M358.80 83.90v-3.30M358.80 6.40v3.30M442.40 83.90v-3.30M442.40 6.40v3.30M275.20 78.73h3.30M442.40 78.73h-3.30M275.20 58.07h3.30M442.40 58.07h-3.30M275.20 37.40h3.30M442.40 37.40h-3.30M275.20 16.73h3.30M442.40 16.73h-3.30" stroke="#7a7a7a" stroke-width="1.0" fill="none"/>
<text x="275.20" y="100.80" text-anchor="middle" class="tk">300</text>
<text x="358.80" y="100.80" text-anchor="middle" class="tk">305</text>
<text x="442.40" y="100.80" text-anchor="middle" class="tk">310</text>
<text x="270.00" y="83.73" text-anchor="end" class="tk">0</text>
<text x="270.00" y="63.07" text-anchor="end" class="tk">0.2</text>
<text x="270.00" y="42.40" text-anchor="end" class="tk">0.4</text>
<text x="270.00" y="21.73" text-anchor="end" class="tk">0.6</text>
<text x="358.80" y="118.10" text-anchor="middle" class="lb"><tspan font-style="italic">T</tspan> (K)</text>
<text transform="translate(240.70 44.85) rotate(-90)" text-anchor="middle" class="lb"><tspan font-style="italic">M</tspan>/<tspan font-style="italic">M</tspan><tspan font-size="11" dy="6.0">S</tspan></text>
<text x="282.40" y="78.40" class="pl">(b)</text>
<g fill="none" stroke="#0000ff" stroke-width="0.85" stroke-linejoin="round"><path d="M55.20 282.44 85.38 284.19 109.25 285.69 111.24 285.91 112.90 286.27 114.22 286.82 115.22 287.50 115.88 288.14 116.55 288.97 117.21 290.04 117.87 291.37 118.54 293.00 119.20 294.96 120.19 298.57 121.19 302.96 122.18 308.06 125.50 327.55 126.49 333.00 127.49 337.75 128.48 341.62 129.48 344.60 130.14 346.12 130.80 347.31 131.47 348.21 132.13 348.88 132.79 349.37 133.46 349.70 134.45 350.02 135.45 350.18 138.76 350.33 221.00 350.33"/><path d="M109.58 285.68 143.07 287.94"/><path d="M124.84 286.76 144.73 288.17"/><path d="M119.53 286.40 130.14 287.50 146.39 288.64"/><path d="M116.88 286.22 120.53 286.69 127.16 287.92 130.14 288.34 134.12 288.69 148.05 289.65"/><path d="M115.22 286.12 117.87 286.49 120.19 287.01 122.18 287.64 127.16 289.46 128.82 289.92 130.47 290.24 134.78 290.71 149.71 291.75"/><path d="M113.89 286.03 115.55 286.26 117.21 286.60 118.54 287.00 119.86 287.56 122.18 288.90 125.83 291.51 127.16 292.36 128.82 293.19 130.80 293.84 132.79 294.20 135.12 294.45 151.36 295.59"/><path d="M113.23 286.01 115.22 286.34 116.88 286.83 118.20 287.44 119.53 288.31 120.53 289.16 121.85 290.53 125.83 295.52 127.16 297.01 128.82 298.45 129.81 299.07 130.80 299.53 132.79 300.08 135.12 300.40 153.02 301.67"/><path d="M112.57 285.97 114.89 286.42 116.55 287.07 117.54 287.68 118.20 288.20 119.53 289.57 120.53 290.90 121.85 293.08 125.83 301.03 127.16 303.40 128.15 304.86 128.82 305.67 129.81 306.64 130.80 307.34 131.80 307.83 132.79 308.16 134.12 308.44 135.45 308.61 154.68 309.94"/><path d="M112.24 285.97 113.56 286.21 114.56 286.49 115.55 286.90 116.21 287.28 117.21 288.04 117.87 288.71 119.20 290.50 120.53 292.96 121.85 296.09 123.18 299.75 125.83 307.53 127.49 311.67 128.15 313.02 129.15 314.67 130.14 315.91 131.14 316.79 132.13 317.38 133.13 317.77 134.45 318.08 135.78 318.26 156.34 319.58"/><path d="M112.24 286.01 113.56 286.30 114.56 286.64 115.55 287.17 116.21 287.65 117.21 288.63 117.87 289.50 118.54 290.55 119.20 291.82 120.53 295.04 121.85 299.13 123.18 303.91 125.83 314.08 127.49 319.49 128.15 321.24 129.15 323.39 130.14 324.99 131.14 326.12 132.13 326.87 133.13 327.35 134.45 327.73 135.78 327.93 139.09 328.17 158.00 329.18"/><path d="M112.57 286.10 113.56 286.37 114.56 286.78 115.55 287.40 116.21 287.97 117.21 289.15 117.87 290.18 118.54 291.45 119.20 292.97 120.53 296.84 121.85 301.76 123.18 307.52 125.83 319.75 127.49 326.25 128.15 328.35 129.15 330.93 130.14 332.84 131.14 334.18 132.13 335.06 133.13 335.62 134.45 336.04 135.78 336.25 139.43 336.50 159.65 337.35"/><path d="M112.90 286.22 113.89 286.56 114.89 287.08 115.88 287.87 116.55 288.60 117.54 290.08 118.20 291.37 118.87 292.94 119.53 294.81 120.53 298.19 121.85 303.73 123.18 310.21 125.83 323.97 127.49 331.27 128.15 333.63 129.15 336.52 130.14 338.65 131.14 340.15 132.13 341.13 133.13 341.74 134.45 342.19 135.78 342.41 139.43 342.62 161.31 343.30"/><path d="M113.89 286.60 114.89 287.16 115.55 287.68 116.21 288.37 116.88 289.25 117.54 290.37 118.20 291.75 118.87 293.43 119.53 295.43 120.53 299.05 121.85 304.99 123.18 311.93 125.83 326.67 127.49 334.48 128.15 337.00 129.15 340.09 130.14 342.37 131.14 343.95 132.13 344.99 133.13 345.64 134.45 346.10 136.11 346.35 139.76 346.51 162.97 346.99"/><path d="M115.22 287.45 115.88 288.08 116.55 288.88 117.54 290.53 118.20 291.96 118.87 293.70 119.86 296.94 120.86 300.95 121.85 305.69 123.18 312.89 125.83 328.17 127.49 336.25 128.15 338.87 129.15 342.06 130.14 344.42 131.14 346.05 132.13 347.12 133.13 347.78 134.45 348.25 136.11 348.50 139.76 348.63 164.63 348.95"/><path d="M117.21 289.98 118.20 292.06 119.20 294.85 119.86 297.13 120.86 301.21 122.51 309.59 126.16 330.69 127.16 335.64 127.82 338.49 128.48 340.95 129.48 343.90 130.47 346.03 131.47 347.48 132.46 348.41 133.46 348.97 134.78 349.36 136.44 349.55 140.09 349.64 166.29 349.83"/><path d="M119.53 296.02 120.53 299.87 121.85 306.18 123.18 313.56 125.83 329.21 127.49 337.49 128.48 341.35 129.48 344.32 130.47 346.47 131.47 347.92 132.46 348.85 133.46 349.41 134.78 349.80 136.44 349.99 140.09 350.07 167.94 350.18"/><path d="M123.84 317.59 126.16 331.16 127.16 336.16 127.82 339.03 128.48 341.52 129.48 344.49 130.47 346.64 131.47 348.10 132.13 348.77 133.13 349.44 134.12 349.82 135.45 350.07 138.43 350.22 150.37 350.25"/></g>
<rect x="55.20" y="278.00" width="165.80" height="77.50" fill="none" stroke="#7a7a7a" stroke-width="1.0"/>
<path d="M55.20 355.50v-3.30M55.20 278.00v3.30M138.10 355.50v-3.30M138.10 278.00v3.30M221.00 355.50v-3.30M221.00 278.00v3.30M55.20 350.33h3.30M221.00 350.33h-3.30M55.20 329.67h3.30M221.00 329.67h-3.30M55.20 309.00h3.30M221.00 309.00h-3.30M55.20 288.33h3.30M221.00 288.33h-3.30" stroke="#7a7a7a" stroke-width="1.0" fill="none"/>
<text x="55.20" y="373.10" text-anchor="middle" class="tk">300</text>
<text x="138.10" y="373.10" text-anchor="middle" class="tk">305</text>
<text x="221.00" y="373.10" text-anchor="middle" class="tk">310</text>
<text x="50.60" y="355.33" text-anchor="end" class="tk">0</text>
<text x="50.60" y="334.67" text-anchor="end" class="tk">0.2</text>
<text x="50.60" y="314.00" text-anchor="end" class="tk">0.4</text>
<text x="50.60" y="293.33" text-anchor="end" class="tk">0.6</text>
<text x="138.60" y="389.10" text-anchor="middle" class="lb"><tspan font-style="italic">T</tspan> (K)</text>
<text transform="translate(21.60 316.45) rotate(-90)" text-anchor="middle" class="lb"><tspan font-style="italic">M</tspan>/<tspan font-style="italic">M</tspan><tspan font-size="11" dy="6.0">S</tspan></text>
<text x="63.10" y="349.60" class="pl">(c)</text>
<g fill="none" stroke="#0000ff" stroke-width="0.85" stroke-linejoin="round"><path d="M275.20 281.74 306.97 283.56 329.37 284.97 331.71 285.27 333.39 285.69 334.72 286.32 335.73 287.07 336.40 287.76 337.06 288.62 337.73 289.70 338.40 291.03 339.07 292.63 339.74 294.53 341.08 299.27 342.08 303.64 343.08 308.63 347.43 332.68 348.43 337.28 349.44 341.05 350.44 343.96 351.11 345.44 351.78 346.61 352.45 347.49 353.12 348.15 353.78 348.63 354.45 348.96 355.46 349.27 356.46 349.44 359.80 349.58 442.40 349.59"/><path d="M329.37 284.94 368.83 287.59 397.26 289.60"/><path d="M344.42 285.99 351.78 286.57 398.93 289.87"/><path d="M339.74 285.68 348.43 286.65 352.45 287.01 400.60 290.40"/><path d="M337.06 285.50 341.41 286.08 349.10 287.59 352.78 288.04 402.27 291.55"/><path d="M335.06 285.37 338.07 285.78 340.41 286.30 342.75 287.05 348.43 289.24 350.44 289.77 352.78 290.16 357.13 290.55 403.94 293.87"/><path d="M334.05 285.32 335.73 285.55 337.40 285.89 338.74 286.29 340.07 286.83 342.41 288.15 347.10 291.59 348.77 292.64 350.77 293.52 353.12 294.10 355.12 294.36 357.80 294.59 405.62 297.97"/><path d="M333.05 285.26 335.06 285.57 336.73 286.01 338.40 286.72 339.74 287.55 341.08 288.66 342.41 290.05 343.75 291.66 347.10 296.00 348.77 297.79 349.77 298.63 350.77 299.28 351.78 299.76 353.12 300.19 355.12 300.56 358.13 300.84 407.29 304.27"/><path d="M332.72 285.27 335.06 285.73 336.73 286.37 337.73 286.95 338.40 287.44 339.74 288.72 341.08 290.44 342.41 292.60 343.75 295.12 347.10 301.91 348.77 304.71 349.77 306.00 350.77 306.99 351.78 307.72 353.12 308.35 355.12 308.85 358.47 309.20 408.96 312.57"/><path d="M332.38 285.26 333.72 285.51 334.72 285.80 335.73 286.20 336.73 286.78 337.73 287.59 338.40 288.27 339.74 290.07 341.08 292.50 342.41 295.55 343.75 299.12 347.10 308.72 348.10 311.22 348.77 312.67 349.77 314.48 350.77 315.87 351.78 316.87 353.12 317.73 354.12 318.13 355.12 318.38 356.46 318.59 358.47 318.77 410.63 321.95"/><path d="M332.38 285.31 333.72 285.61 334.72 285.95 335.73 286.46 336.73 287.20 337.73 288.22 338.40 289.10 339.74 291.41 341.08 294.54 342.41 298.47 343.75 303.07 347.10 315.47 348.10 318.68 348.77 320.55 349.77 322.88 350.77 324.65 351.78 325.92 352.45 326.54 353.12 327.01 354.12 327.49 355.12 327.79 356.46 328.02 358.47 328.21 412.30 330.99"/><path d="M332.72 285.41 334.05 285.80 335.06 286.26 336.06 286.94 336.73 287.55 337.73 288.76 338.40 289.81 339.07 291.07 339.74 292.56 341.08 296.28 342.41 300.97 343.75 306.45 347.10 321.21 348.10 325.04 348.77 327.25 349.77 330.02 350.77 332.12 351.78 333.62 352.45 334.34 353.12 334.88 354.12 335.44 355.12 335.78 356.46 336.03 358.47 336.21 413.98 338.45"/><path d="M333.05 285.53 334.05 285.87 335.06 286.38 336.06 287.13 336.73 287.81 337.73 289.17 338.40 290.33 339.07 291.74 339.74 293.40 341.08 297.56 342.41 302.81 343.75 308.94 347.10 325.43 348.10 329.71 348.77 332.18 349.77 335.26 350.44 336.89 351.11 338.21 352.11 339.68 352.78 340.38 353.45 340.89 354.45 341.40 355.46 341.71 356.79 341.92 358.80 342.06 415.65 343.70"/><path d="M334.05 285.92 335.06 286.46 335.73 286.96 336.73 287.98 337.40 288.89 338.07 290.01 338.74 291.38 339.40 293.02 340.07 294.94 341.08 298.39 342.41 303.98 343.75 310.53 347.10 328.12 348.10 332.68 348.77 335.31 349.77 338.59 350.44 340.33 351.11 341.73 352.11 343.29 352.78 344.02 353.45 344.56 354.45 345.10 355.46 345.41 356.79 345.62 358.80 345.75 417.32 346.87"/><path d="M335.39 286.74 336.06 287.33 336.73 288.08 337.73 289.57 338.40 290.85 339.07 292.41 340.07 295.28 341.08 298.85 342.41 304.64 343.75 311.42 347.10 329.63 348.10 334.33 348.77 337.06 349.77 340.44 350.44 342.24 351.11 343.69 352.11 345.29 352.78 346.04 353.45 346.60 354.45 347.14 355.46 347.46 356.79 347.67 358.80 347.78 418.99 348.49"/><path d="M337.40 289.08 338.40 290.95 339.40 293.43 340.41 296.58 341.41 300.44 342.41 304.97 343.42 310.06 347.10 330.37 348.10 335.16 349.10 339.17 350.11 342.32 351.11 344.66 352.11 346.28 352.78 347.04 353.45 347.60 354.45 348.15 355.46 348.47 356.79 348.67 358.80 348.78 420.66 349.20"/><path d="M339.74 294.47 341.08 299.19 342.41 305.12 343.75 312.07 347.10 330.72 348.10 335.54 348.77 338.32 349.77 341.79 350.44 343.62 351.11 345.10 352.11 346.73 352.78 347.50 353.45 348.06 354.45 348.61 355.46 348.92 356.79 349.13 358.80 349.23 422.34 349.47"/><path d="M343.08 308.57 346.76 329.11 347.76 334.17 348.77 338.50 349.77 341.97 350.77 344.59 351.78 346.46 352.45 347.34 353.12 348.00 354.12 348.66 355.12 349.04 356.46 349.29 358.13 349.40 394.25 349.51"/></g>
<rect x="275.20" y="277.30" width="167.20" height="77.45" fill="none" stroke="#7a7a7a" stroke-width="1.0"/>
<path d="M275.20 354.75v-3.30M275.20 277.30v3.30M358.80 354.75v-3.30M358.80 277.30v3.30M442.40 354.75v-3.30M442.40 277.30v3.30M275.20 349.59h3.30M442.40 349.59h-3.30M275.20 328.93h3.30M442.40 328.93h-3.30M275.20 308.28h3.30M442.40 308.28h-3.30M275.20 287.63h3.30M442.40 287.63h-3.30" stroke="#7a7a7a" stroke-width="1.0" fill="none"/>
<text x="275.20" y="371.65" text-anchor="middle" class="tk">300</text>
<text x="358.80" y="371.65" text-anchor="middle" class="tk">305</text>
<text x="442.40" y="371.65" text-anchor="middle" class="tk">310</text>
<text x="270.00" y="354.59" text-anchor="end" class="tk">0</text>
<text x="270.00" y="333.93" text-anchor="end" class="tk">0.2</text>
<text x="270.00" y="313.28" text-anchor="end" class="tk">0.4</text>
<text x="270.00" y="292.63" text-anchor="end" class="tk">0.6</text>
<text x="358.70" y="388.35" text-anchor="middle" class="lb"><tspan font-style="italic">T</tspan> (K)</text>
<text transform="translate(240.70 315.72) rotate(-90)" text-anchor="middle" class="lb"><tspan font-style="italic">M</tspan>/<tspan font-style="italic">M</tspan><tspan font-size="11" dy="6.0">S</tspan></text>
<text x="282.40" y="347.80" class="pl">(d)</text>
<text x="78.23" y="246.00" text-anchor="middle" class="tk">1</text>
<text x="123.30" y="246.00" text-anchor="middle" class="tk">2</text>
<text x="168.37" y="246.00" text-anchor="middle" class="tk">3</text>
<text x="50.80" y="217.97" text-anchor="end" class="tk">304</text>
<text x="50.80" y="184.50" text-anchor="end" class="tk">305</text>
<text x="50.80" y="151.03" text-anchor="end" class="tk">306</text>
<text x="212.90" y="230.97" class="cb">0</text>
<text x="212.90" y="206.75" class="cb">0.1</text>
<text x="212.90" y="182.54" class="cb">0.2</text>
<text x="212.90" y="158.32" class="cb">0.3</text>
<text x="212.90" y="134.10" class="cb">0.4</text>
<path d="M208.30 226.07h-2.20M208.30 201.85h-2.20M208.30 177.64h-2.20M208.30 153.42h-2.20M208.30 129.20h-2.20" stroke="#262626" stroke-width="0.7" fill="none"/>
<rect x="195.20" y="129.20" width="13.10" height="99.90" fill="none" stroke="#303030" stroke-width="0.6"/>
<text x="123.30" y="262.40" text-anchor="middle" class="lb"><tspan font-style="italic">T</tspan><tspan font-style="italic" font-size="10.5" dy="6.0">h</tspan><tspan dy="-6.0"> (K)</tspan></text>
<text transform="translate(18.70 179.50) rotate(-90)" text-anchor="middle" class="lb"><tspan font-style="italic">T</tspan><tspan font-style="italic" font-size="10.5" dy="6.0">u</tspan><tspan dy="-6.0"> (K)</tspan></text>
<text x="62.40" y="223.80" class="pl" style="fill:#fff">(a')</text>
<text x="306.38" y="243.80" text-anchor="middle" class="tk">1</text>
<text x="351.35" y="243.80" text-anchor="middle" class="tk">2</text>
<text x="396.32" y="243.80" text-anchor="middle" class="tk">3</text>
<text x="279.00" y="215.75" text-anchor="end" class="tk">304</text>
<text x="279.00" y="182.25" text-anchor="end" class="tk">305</text>
<text x="279.00" y="148.75" text-anchor="end" class="tk">306</text>
<text x="443.30" y="230.58" class="cb">0</text>
<text x="443.30" y="199.45" class="cb">0.5</text>
<text x="443.30" y="168.32" class="cb">1</text>
<text x="443.30" y="137.19" class="cb">1.5</text>
<path d="M438.70 225.68h-2.20M438.70 194.55h-2.20M438.70 163.42h-2.20M438.70 132.29h-2.20" stroke="#262626" stroke-width="0.7" fill="none"/>
<rect x="425.50" y="127.50" width="13.20" height="99.30" fill="none" stroke="#303030" stroke-width="0.6"/>
<text x="351.35" y="260.20" text-anchor="middle" class="lb"><tspan font-style="italic">T</tspan><tspan font-style="italic" font-size="10.5" dy="6.0">h</tspan><tspan dy="-6.0"> (K)</tspan></text>
<text transform="translate(246.90 177.25) rotate(-90)" text-anchor="middle" class="lb"><tspan font-style="italic">T</tspan><tspan font-style="italic" font-size="10.5" dy="6.0">u</tspan><tspan dy="-6.0"> (K)</tspan></text>
<text x="289.20" y="219.70" class="pl" style="fill:#fff">(b')</text>
<text x="77.85" y="522.00" text-anchor="middle" class="tk">1</text>
<text x="122.95" y="522.00" text-anchor="middle" class="tk">2</text>
<text x="168.05" y="522.00" text-anchor="middle" class="tk">3</text>
<text x="50.40" y="493.97" text-anchor="end" class="tk">304</text>
<text x="50.40" y="460.50" text-anchor="end" class="tk">305</text>
<text x="50.40" y="427.03" text-anchor="end" class="tk">306</text>
<text x="216.20" y="509.42" class="cb">0</text>
<text x="216.20" y="477.37" class="cb">0.5</text>
<text x="216.20" y="445.33" class="cb">1</text>
<text x="216.20" y="413.28" class="cb">1.5</text>
<path d="M211.60 504.52h-2.20M211.60 472.47h-2.20M211.60 440.43h-2.20M211.60 408.38h-2.20" stroke="#262626" stroke-width="0.7" fill="none"/>
<rect x="197.90" y="405.30" width="13.70" height="99.80" fill="none" stroke="#303030" stroke-width="0.6"/>
<text x="122.95" y="538.40" text-anchor="middle" class="lb"><tspan font-style="italic">T</tspan><tspan font-style="italic" font-size="10.5" dy="6.0">h</tspan><tspan dy="-6.0"> (K)</tspan></text>
<text transform="translate(18.30 455.50) rotate(-90)" text-anchor="middle" class="lb"><tspan font-style="italic">T</tspan><tspan font-style="italic" font-size="10.5" dy="6.0">u</tspan><tspan dy="-6.0"> (K)</tspan></text>
<text x="60.60" y="499.20" class="pl" style="fill:#fff">(c')</text>
<text x="306.30" y="522.10" text-anchor="middle" class="tk">1</text>
<text x="351.30" y="522.10" text-anchor="middle" class="tk">2</text>
<text x="396.30" y="522.10" text-anchor="middle" class="tk">3</text>
<text x="278.90" y="493.83" text-anchor="end" class="tk">304</text>
<text x="278.90" y="460.30" text-anchor="end" class="tk">305</text>
<text x="278.90" y="426.77" text-anchor="end" class="tk">306</text>
<text x="444.70" y="506.85" class="cb">0</text>
<text x="444.70" y="475.61" class="cb">0.5</text>
<text x="444.70" y="444.37" class="cb">1</text>
<text x="444.70" y="413.12" class="cb">1.5</text>
<path d="M440.10 501.95h-2.20M440.10 470.71h-2.20M440.10 439.47h-2.20M440.10 408.22h-2.20" stroke="#262626" stroke-width="0.7" fill="none"/>
<rect x="426.20" y="404.10" width="13.90" height="100.60" fill="none" stroke="#303030" stroke-width="0.6"/>
<text x="351.30" y="539.10" text-anchor="middle" class="lb"><tspan font-style="italic">T</tspan><tspan font-style="italic" font-size="10.5" dy="6.0">h</tspan><tspan dy="-6.0"> (K)</tspan></text>
<text transform="translate(246.80 455.80) rotate(-90)" text-anchor="middle" class="lb"><tspan font-style="italic">T</tspan><tspan font-style="italic" font-size="10.5" dy="6.0">u</tspan><tspan dy="-6.0"> (K)</tspan></text>
<text x="287.30" y="498.80" class="pl" style="fill:#fff">(d')</text>
</svg>
</body></html>
